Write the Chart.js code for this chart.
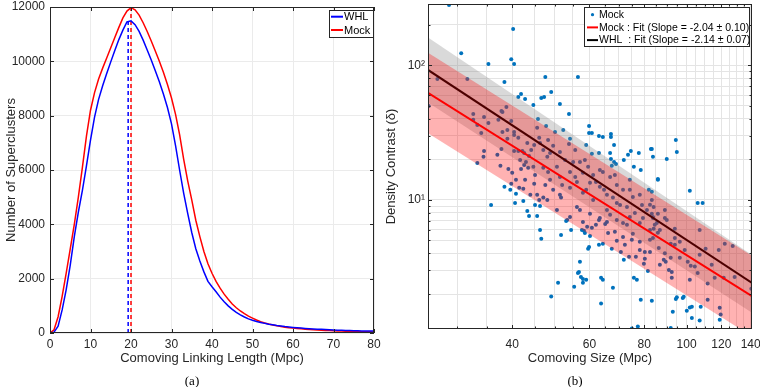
<!DOCTYPE html>
<html>
<head>
<meta charset="utf-8">
<script src="https://cdn.jsdelivr.net/npm/chart.js@4.4.0/dist/chart.umd.min.js"></script>
<style>
  body { margin: 0; background: #fff; width: 760px; height: 387px; position: relative; overflow: hidden; }
  canvas { position: absolute; top: 0; }
  #chartA { left: 0; }
  #chartB { left: 380px; }
  .cap { position: absolute; top: 373px; font: 13px "Liberation Serif", "Times New Roman", serif; color: #000; transform: translateX(-50%); }
</style>
</head>
<body>
<canvas id="chartA" width="385" height="387"></canvas>
<canvas id="chartB" width="380" height="387"></canvas>
<div class="cap" style="left:192px">(a)</div>
<div class="cap" style="left:575px">(b)</div>
<script>
const FONT = '"Liberation Sans", Arial, sans-serif';
const INK = '#262626';

// (a) number of superclusters vs linking length
const linkLen = [0,1,2,3,4,5,6,7,8,9,10,11,12,13,14,15,16,17,18,19,20,
  21,22,23,24,25,26,27,28,29,30,31,32,33,34,35,36,37,38,39,40,
  41,42,43,44,45,46,47,48,49,50,51,52,53,54,55,56,57,58,59,60,
  61,62,63,64,65,66,67,68,69,70,71,72,73,74,75,76,77,78,79,80];
const whlCount = [0,30,250,850,1600,2500,3550,4450,5250,6150,7100,
  7950,8600,9100,9550,9980,10400,10800,11150,11450,11490,
  11350,11100,10780,10420,10050,9650,9250,8800,8300,7700,
  6900,6000,5150,4400,3700,3100,2650,2250,1900,1700,
  1520,1320,1150,1000,870,760,670,590,520,470,
  425,390,355,325,300,275,255,235,220,205,
  192,180,170,160,150,142,134,126,118,110,
  105,100,95,90,86,82,78,75,72,70];
const mockCount = [0,120,600,1350,2200,3100,4000,5000,6100,7250,8200,
  8850,9350,9750,10120,10500,10880,11250,11600,11850,11975,
  11900,11700,11420,11100,10750,10380,10000,9600,9150,8650,
  8050,7300,6400,5600,4900,4150,3550,3000,2550,2200,
  1900,1650,1430,1240,1070,930,810,710,620,550,
  480,420,370,330,295,265,240,215,195,180,
  165,152,140,130,120,111,103,96,89,82,
  76,70,65,60,56,52,48,45,42,40];
const peakLen = [19.3, 20.0];      // WHL, Mock
const peakCount = [11500, 11975];

// (b) density contrast vs comoving size (mock superclusters)
const mockSize = [28.7,40.2,30.6,39.8,40.4,35.3,27.0,31.6,38.4,47.6,56.5,49.1,41.9,41.3,42.8,46.6,47.3,51.4,44.7,25.8,38.8,37.8,38.0,32.6,53.9,
  34.5,32.6,33.3,35.3,37.2,39.8,39.0,38.0,34.0,40.4,40.4,41.3,39.0,43.3,44.9,46.1,34.5,37.8,40.4,41.3,42.2,42.6,44.2,37.0,34.4,43.7,43.0,42.6,43.5,41.9,44.7,33.3,37.6,39.2,40.0,40.8,45.1,44.9,39.8,38.4,41.5,42.4,39.6,40.8,45.6,47.1,46.1,42.4,35.8,45.1,43.3,43.7,45.6,40.6,
  47.8,50.1,52.3,59.9,59.9,60.8,63.1,64.4,67.2,67.2,46.3,49.6,54.2,53.9,59.0,68.3,73.5,77.8,82.9,60.8,63.1,66.9,67.2,68.3,69.0,67.5,71.9,75.8,78.6,86.0,74.2,82.0,47.1,48.8,51.4,48.1,52.8,55.1,57.1,59.6,50.6,47.1,54.2,58.0,61.2,64.4,66.9,51.4,48.8,56.2,60.2,63.4,69.3,71.6,54.2,49.6,58.0,65.8,75.4,78.2,48.1,51.7,61.2,69.3,73.1,56.2,81.2,65.8,50.6,60.2,74.2,83.8,54.2,69.3,63.4,53.4,78.2,58.0,46.3,82.5,71.6,45.8,45.6,74.6,
  48.3,52.0,55.7,59.0,62.1,64.8,67.9,70.5,76.2,79.5,84.6,66.9,62.1,57.1,51.4,47.6,44.0,42.8,41.7,48.3,55.7,58.6,63.4,68.6,74.2,79.1,89.2,86.9,94.0,99.0,107.1,114.1,101.7,86.9,82.5,72.3,
  94.5,83.3,95.0,83.8,90.1,86.0,
  83.3,101.7,106.0,108.8,83.3,84.1,89.2,83.3,86.0,83.8,90.1,85.5,84.1,94.0,107.1,86.0,83.8,96.5,94.0,92.0,86.4,89.2,82.5,110.5,122.2,127.4,118.4,92.0,96.5,88.7,89.6,100.6,102.2,104.4,91.1,92.5,106.0,92.5,115.9,121.5,128.7,111.7,140.5,95.0,94.5,98.0,98.5,111.7,93.0,100.1,101.7,102.8,107.7,119.0,119.6,119.0,102.8,107.1,92.0,
  46.3,46.6,51.7,54.5,57.7,58.3,58.6,60.2,59.9,59.6,63.1,64.4,57.1,56.5,56.8,57.4,58.0,59.0,58.0,63.8,64.4,50.9,55.4,67.9,49.1,63.8,67.5,70.8,71.9,75.8,77.0,78.6,83.3,77.4,75.0,81.6,79.9,76.6,73.9,80.3,80.3,69.3,71.6,75.0,75.4,66.2,68.6,73.1,65.8,65.2,59.3,60.8,63.1,82.5,78.2,53.1,78.2];
const mockDelta = [280,186,123,111,102,102,79.1,79.1,75.2,81.9,81.9,63.3,61.2,58.2,56.2,57.2,58.2,51.6,50.7,49.9,49.0,45.8,45.0,43.5,43.5,
  41.3,39.3,36.0,37.3,39.3,38.6,33.1,32.0,31.4,32.0,30.4,28.9,28.4,26.5,25.6,28.9,23.1,23.9,23.1,23.1,23.1,22.3,23.5,21.6,20.9,21.2,19.1,18.2,17.3,17.0,17.6,18.8,17.9,17.0,15.9,14.1,15.3,13.2,13.2,12.5,12.3,12.1,11.9,11.1,10.9,10.4,10.0,9.83,9.18,9.18,8.29,7.60,7.60,9.5,
  35.4,32.0,33.1,35.4,31.4,31.4,29.8,29.3,30.9,29.3,26.5,25.2,28.4,26.0,25.6,25.6,21.6,22.3,23.9,22.0,22.3,22.3,20.1,19.1,18.5,17.9,19.8,17.6,16.7,14.1,14.1,11.9,23.5,22.3,22.7,20.9,19.8,19.1,19.1,17.6,17.6,17.3,16.1,15.9,15.3,16.1,14.8,14.8,14.1,13.6,13.4,12.5,12.9,11.9,12.3,11.9,11.3,10.9,10.5,10.9,10.0,10.4,10.0,9.5,8.87,8.87,8.43,8.43,8.43,7.9,7.48,7.48,7.48,7.1,7.34,7.1,6.75,6.86,9.0,9.2,6.75,39.9,34.3,23.1,
  16.1,12.9,14.8,11.9,13.6,11.9,10.4,9.18,8.0,7.34,6.54,7.76,6.54,8.43,10.9,12.9,10.9,14.1,19.8,27.9,23.5,19.8,16.7,15.3,11.9,9.18,7.34,5.99,5.22,4.25,3.92,3.30,2.55,3.30,5.05,4.65,
  27.9,23.9,22.7,20.9,20.1,14.3,
  11.5,11.7,9.5,9.5,10.0,8.87,8.43,7.9,7.9,7.34,7.1,6.75,6.1,6.1,5.99,5.7,5.22,4.88,4.65,4.72,4.40,4.02,4.11,4.33,4.72,4.55,4.25,3.72,3.72,3.59,3.47,3.47,3.25,3.20,3.02,2.92,2.87,2.64,2.64,2.64,2.68,2.39,2.19,1.89,1.84,1.87,1.91,1.81,1.48,1.50,1.59,1.61,1.61,1.58,1.41,1.29,1.33,1.27,1.12,
  5.99,5.14,5.50,5.99,5.99,5.89,5.69,5.40,4.47,4.33,4.65,4.72,3.47,2.87,2.92,2.68,2.59,2.55,2.43,2.64,2.55,2.43,2.27,2.23,1.92,1.70,4.33,4.11,3.59,2.64,2.55,1.81,1.78,1.15,1.11,2.97,3.35,3.78,3.78,4.11,3.65,4.97,5.31,5.05,5.60,5.69,5.79,6.54,6.86,6.63,6.31,6.20,7.10,5.99,4.88,6.98,4.25];

// fit lines and their bands, at the two ends of the size axis
const fitSize = [25.7, 141];
const mockFit = [62.3, 1.93];
const mockBandHi = [124, 3.85];
const mockBandLo = [31.2, 0.97];
const whlFit = [92.3, 2.42];
const whlBandHi = [161, 3.9];
const whlBandLo = [53, 1.45];

const sizeTicks = [30,35,40,45,50,55,60,65,70,75,80,85,90,95,100,105,110,115,120,125,130,135,140];
const sizeLabels = {40: '40', 60: '60', 80: '80', 100: '100', 120: '120', 140: '140'};
const deltaTicks = [2,3,4,5,6,7,8,9,10,20,30,40,50,60,70,80,90,100,200];
const deltaLabels = {10: '10\u00B9', 100: '10\u00B2'};

const pts = (xs, ys) => xs.map((x, i) => ({x, y: ys[i]}));

// axis box with inward tick marks, like the original figure
const frame = {
  id: 'frame',
  afterDatasetsDraw(chart) {
    const {ctx, chartArea: a, scales: {x, y}} = chart;
    ctx.save();
    ctx.strokeStyle = INK;
    ctx.lineWidth = 1;
    ctx.beginPath();
    x.ticks.forEach(t => {
      const px = Math.round(x.getPixelForValue(t.value)) + 0.5;
      const len = t.label ? 4 : 2.5;
      ctx.moveTo(px, a.bottom); ctx.lineTo(px, a.bottom - len);
      ctx.moveTo(px, a.top); ctx.lineTo(px, a.top + len);
    });
    y.ticks.forEach(t => {
      const py = Math.round(y.getPixelForValue(t.value)) + 0.5;
      const len = t.label ? 4 : 2.5;
      ctx.moveTo(a.left, py); ctx.lineTo(a.left + len, py);
      ctx.moveTo(a.right, py); ctx.lineTo(a.right - len, py);
    });
    ctx.stroke();
    ctx.strokeRect(Math.round(a.left) + 0.5, Math.round(a.top) + 0.5,
      Math.round(a.right - a.left) - 1, Math.round(a.bottom - a.top) - 1);
    ctx.restore();
  }
};

// boxed legend placed inside the plot
const boxLegend = {
  id: 'boxLegend',
  afterDraw(chart, args, o) {
    const {ctx} = chart;
    ctx.save();
    ctx.fillStyle = '#fff';
    ctx.fillRect(o.x, o.y, o.w, o.h);
    ctx.strokeStyle = INK;
    ctx.lineWidth = 1;
    ctx.strokeRect(o.x + 0.5, o.y + 0.5, o.w, o.h);
    ctx.font = o.size + 'px ' + FONT;
    ctx.textBaseline = 'middle';
    o.items.forEach((it, i) => {
      const cy = o.y + o.first + i * o.step;
      if (it.dot) {
        ctx.fillStyle = it.color;
        ctx.beginPath();
        ctx.arc(o.x + o.sx + o.sw / 2, cy, 1.6, 0, Math.PI * 2);
        ctx.fill();
      } else {
        ctx.strokeStyle = it.color;
        ctx.lineWidth = 2;
        ctx.beginPath();
        ctx.moveTo(o.x + o.sx, cy);
        ctx.lineTo(o.x + o.sx + o.sw, cy);
        ctx.stroke();
      }
      ctx.fillStyle = '#000';
      ctx.fillText(it.text, o.x + o.tx, cy + 0.5);
    });
    ctx.restore();
  }
};

// keep the plot box where the figure has it (no room kept for half labels)
const noEdgePad = s => { s.paddingTop = 0; s.paddingBottom = 0; s.paddingLeft = 0; s.paddingRight = 0; };

const tickFont = {family: FONT, size: 12};
const titleFont = {family: FONT, size: 13};

new Chart(document.getElementById('chartA'), {
  type: 'line',
  data: {
    datasets: [
      {label: 'WHL', data: pts(linkLen, whlCount), borderColor: '#0000ff', borderWidth: 1.5, pointRadius: 0},
      {label: 'Mock', data: pts(linkLen, mockCount), borderColor: '#ff0000', borderWidth: 1.5, pointRadius: 0},
      {data: [{x: peakLen[0], y: 0}, {x: peakLen[0], y: peakCount[0]}], borderColor: '#0000ff', borderWidth: 1.5, borderDash: [4, 3], pointRadius: 0},
      {data: [{x: peakLen[1], y: 0}, {x: peakLen[1], y: peakCount[1]}], borderColor: '#ff0000', borderWidth: 1.5, borderDash: [4, 3], pointRadius: 0}
    ]
  },
  options: {
    responsive: false,
    animation: false,
    layout: {padding: {top: 7, right: 11, bottom: 21, left: 0}},
    plugins: {
      legend: {display: false},
      tooltip: {enabled: false},
      boxLegend: {
        x: 329, y: 10, w: 44, h: 27, first: 6.7, step: 13.3, sx: 2, sw: 12, tx: 15, size: 11,
        items: [{color: '#0000ff', text: 'WHL'}, {color: '#ff0000', text: 'Mock'}]
      }
    },
    scales: {
      x: {
        type: 'linear', min: 0, max: 80,
        ticks: {stepSize: 10, font: tickFont, color: INK, padding: 4, maxRotation: 0},
        grid: {color: '#ebebeb', drawTicks: false},
        border: {display: false},
        title: {display: true, text: 'Comoving Linking Length (Mpc)', font: titleFont, color: INK, padding: {top: 0, bottom: 0}},
        afterFit: s => { noEdgePad(s); s.height = 33; }
      },
      y: {
        min: 0, max: 12000,
        ticks: {stepSize: 2000, font: tickFont, color: INK, padding: 5, callback: v => String(v)},
        grid: {color: '#ebebeb', drawTicks: false},
        border: {display: false},
        title: {display: true, text: 'Number of Superclusters', font: titleFont, color: INK, padding: {top: 4, bottom: 0}},
        afterFit: s => { noEdgePad(s); s.width = 50; }
      }
    }
  },
  plugins: [frame, boxLegend]
});

new Chart(document.getElementById('chartB'), {
  type: 'line',
  data: {
    datasets: [
      {label: 'Mock', data: pts(mockSize, mockDelta), showLine: false, pointRadius: 2, pointBackgroundColor: '#0072bd', pointBorderWidth: 0, order: 6},
      {data: pts(fitSize, whlBandLo), borderColor: 'transparent', pointRadius: 0, fill: false, clip: 0, order: 5},
      {data: pts(fitSize, whlBandHi), borderColor: 'transparent', pointRadius: 0, fill: 1, backgroundColor: 'rgba(128,128,128,0.3)', clip: 0, order: 5},
      {label: 'WHL fit', data: pts(fitSize, whlFit), borderColor: '#000', borderWidth: 2, pointRadius: 0, clip: 0, order: 4},
      {data: pts(fitSize, mockBandLo), borderColor: 'transparent', pointRadius: 0, fill: false, clip: 0, order: 3},
      {data: pts(fitSize, mockBandHi), borderColor: 'transparent', pointRadius: 0, fill: 4, backgroundColor: 'rgba(255,0,0,0.3)', clip: 0, order: 3},
      {label: 'Mock fit', data: pts(fitSize, mockFit), borderColor: '#ff0000', borderWidth: 2, pointRadius: 0, clip: 0, order: 1}
    ]
  },
  options: {
    responsive: false,
    animation: false,
    layout: {padding: {top: 4, right: 8, bottom: 21, left: 0}},
    plugins: {
      legend: {display: false},
      tooltip: {enabled: false},
      boxLegend: {
        x: 204, y: 7, w: 165, h: 39, first: 7.7, step: 12.7, sx: 3, sw: 11, tx: 15, size: 10.5,
        items: [
          {dot: true, color: '#0072bd', text: 'Mock'},
          {color: '#ff0000', text: 'Mock : Fit (Slope = -2.04 \u00B1 0.10)'},
          {color: '#000', text: 'WHL  : Fit (Slope = -2.14 \u00B1 0.07)'}
        ]
      }
    },
    scales: {
      x: {
        type: 'logarithmic', min: 25.7, max: 141,
        afterBuildTicks: s => { s.ticks = sizeTicks.map(v => ({value: v})); },
        ticks: {font: tickFont, color: INK, padding: 8, autoSkip: false, maxRotation: 0, callback: v => sizeLabels[v] || ''},
        grid: {color: '#e4e4e4', drawTicks: false},
        border: {display: false},
        title: {display: true, text: 'Comoving Size (Mpc)', font: titleFont, color: INK, padding: {top: 0, bottom: 0}},
        afterFit: s => { noEdgePad(s); s.height = 37; }
      },
      y: {
        type: 'logarithmic', min: 1.1, max: 285,
        afterBuildTicks: s => { s.ticks = deltaTicks.map(v => ({value: v})); },
        ticks: {font: tickFont, color: INK, padding: 3, autoSkip: false, callback: v => deltaLabels[v] || ''},
        grid: {color: '#e4e4e4', drawTicks: false},
        border: {display: false},
        title: {display: true, text: 'Density Contrast (\u03B4)', font: titleFont, color: INK, padding: {top: 4, bottom: 0}},
        afterFit: s => { noEdgePad(s); s.width = 48; }
      }
    }
  },
  plugins: [frame, boxLegend]
});
</script>
</body>
</html>
